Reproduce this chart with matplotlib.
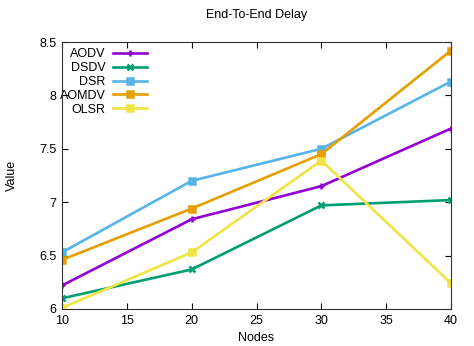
import matplotlib
matplotlib.use("Agg")
import matplotlib.pyplot as plt

plt.rcParams['font.family'] = ['Liberation Sans', 'DejaVu Sans']

# end-to-end delay per routing protocol
nodes = [10, 20, 30, 40]
aodv = [6.22, 6.84, 7.15, 7.69]
dsdv = [6.10, 6.37, 6.97, 7.02]
dsr = [6.53, 7.20, 7.50, 8.13]
aomdv = [6.46, 6.94, 7.45, 8.42]
olsr = [6.01, 6.53, 7.39, 6.24]

series = [
    ("AODV", aodv, "#9400d3", "+"),
    ("DSDV", dsdv, "#009e73", "x"),
    ("DSR", dsr, "#56b4e9", "s"),
    ("AOMDV", aomdv, "#e69f00", "s"),
    ("OLSR", olsr, "#f0e442", "s"),
]

fig = plt.figure(figsize=(4.74, 3.46), dpi=100)
ax = fig.add_axes([0.1308, 0.107, 0.8207, 0.7716])

for name, vals, col, mk in series:
    ax.plot(nodes, vals, color=col, lw=1.9, marker=mk, ms=4.5, mew=1.8, label=name)

ax.set_xlim(10, 40)
ax.set_ylim(6, 8.5)
ax.set_xticks([10, 15, 20, 25, 30, 35, 40])
ax.set_yticks([6, 6.5, 7, 7.5, 8, 8.5])
ax.set_yticklabels(["6", "6.5", "7", "7.5", "8", "8.5"])
ax.tick_params(direction="in", top=True, right=True, labelsize=9, length=4, width=0.8, pad=4)
for s in ax.spines.values():
    s.set_linewidth(0.8)
    s.set_color("#333333")

ax.set_title("End-To-End Delay", fontsize=9, pad=17)
ax.set_xlabel("Nodes", fontsize=9, labelpad=4)
ax.set_ylabel("Value", fontsize=9, labelpad=15)

ax.legend(loc="upper left", markerfirst=False, frameon=False, fontsize=9,
          handlelength=2.7, labelspacing=0.15, handletextpad=0.6,
          borderaxespad=0.2, bbox_to_anchor=(-0.025, 1.005))

fig.savefig("out.png", dpi=100)
